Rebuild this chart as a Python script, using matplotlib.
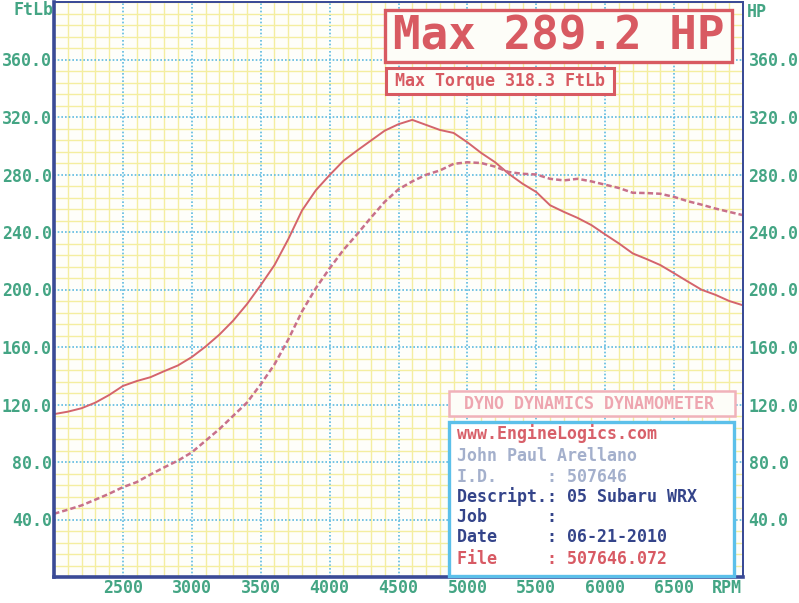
import matplotlib
matplotlib.use("Agg")
import matplotlib.pyplot as plt
from matplotlib.patches import Rectangle
import numpy as np

# ---- data ----
rpm = list(range(2000, 7001, 100))
torque = [113.3, 115.0, 117.4, 121.3, 126.6, 132.9, 136.3, 139.0, 143.2, 147.2,
          153.0, 160.3, 168.6, 178.3, 189.8, 203.0, 217.0, 235.0, 255.0, 269.0,
          279.6, 289.5, 296.7, 303.6, 310.5, 315.0, 318.0, 314.5, 311.0, 308.9,
          302.4, 295.0, 288.6, 280.5, 273.6, 267.8, 258.6, 254.0, 249.8, 244.8,
          238.3, 232.0, 225.1, 221.2, 217.0, 211.3, 205.5, 199.8, 196.3, 192.0,
          189.0]
hp = [44.0, 46.8, 49.8, 53.8, 57.9, 62.5, 66.0, 71.3, 76.3, 81.0,
      86.7, 94.8, 102.9, 112.1, 121.3, 134.0, 147.9, 165.2, 184.8, 200.9,
      214.7, 227.5, 238.5, 250.0, 261.0, 269.7, 275.2, 279.8, 282.8, 287.4,
      288.5, 288.0, 285.5, 281.7, 280.5, 280.0, 277.0, 275.9, 277.0, 275.2,
      272.9, 270.6, 267.3, 267.1, 266.6, 264.4, 261.4, 259.0, 256.3, 254.0,
      251.7]
x_ticks = [2500, 3000, 3500, 4000, 4500, 5000, 5500, 6000, 6500]
y_ticks = [40, 80, 120, 160, 200, 240, 280, 320, 360]
y_tick_labels = ["40.0", "80.0", "120.0", "160.0", "200.0", "240.0", "280.0", "320.0", "360.0"]
info_lines = [
    ("www.EngineLogics.com", "#d8606a"),
    ("John Paul Arellano", "#a4b0cc"),
    ("I.D.     : 507646", "#a4b0cc"),
    ("Descript.: 05 Subaru WRX", "#34448a"),
    ("Job      :", "#34448a"),
    ("Date     : 06-21-2010", "#34448a"),
    ("File     : 507646.072", "#d85a64"),
]

W, H = 799, 603
MONO = "DejaVu Sans Mono"
GREEN = "#44a584"
NAVY = "#3a4a96"
RED = "#d85a62"

fig = plt.figure(figsize=(W / 100, H / 100), dpi=100, facecolor="white")

def fx(px):
    return px / W

def fy(py):
    return 1 - py / H

ax = fig.add_axes([fx(54), fy(577), fx(743) - fx(54), fy(2) - fy(577)])
ax.set_facecolor("#fefefa")
ax.set_xlim(2000, 7000)
ax.set_ylim(0, 400)

# grid
ax.set_xticks(np.arange(2000, 7001, 100), minor=True)
ax.set_yticks(np.arange(0, 401, 8), minor=True)
ax.set_xticks(x_ticks)
ax.set_yticks(y_ticks)
ax.grid(which="minor", color="#f4eea0", linewidth=1.0, linestyle="-")
ax.grid(which="major", color="#5cbae0", linewidth=1.2, linestyle=(0, (1, 1.2)))
ax.set_axisbelow(True)

ax.tick_params(which="both", length=0)
ax.set_xticklabels([str(v) for v in x_ticks], fontfamily=MONO, fontweight="bold",
                   fontsize=12, color=GREEN)
ax.set_yticklabels(y_tick_labels, fontfamily=MONO, fontweight="bold",
                   fontsize=12, color=GREEN)
ax.tick_params(axis="x", pad=1.5)
ax.tick_params(axis="y", pad=1.5)

ax2 = ax.twinx()
ax2.set_ylim(0, 400)
ax2.set_yticks(y_ticks)
ax2.set_yticklabels(y_tick_labels, fontfamily=MONO, fontweight="bold",
                    fontsize=12, color=GREEN)
ax2.tick_params(length=0, pad=4)

for a in (ax, ax2):
    for s in a.spines.values():
        s.set_color(NAVY)
        s.set_linewidth(1.3)
ax.spines["left"].set_linewidth(2.6)
ax.spines["bottom"].set_linewidth(2.6)

# curves
ax.plot(rpm, torque, color="#d4646c", linewidth=1.4, solid_capstyle="round")
ax.plot(rpm, hp, color="#c8708a", linewidth=1.8, linestyle=(0, (2.2, 1.2)))

# axis titles
fig.text(fx(53), fy(10), "FtLb", ha="right", va="center", fontfamily=MONO,
         fontweight="bold", fontsize=12, color=GREEN)
fig.text(fx(747), fy(12), "HP", ha="left", va="center", fontfamily=MONO,
         fontweight="bold", fontsize=12, color=GREEN)
fig.text(fx(742), fy(588), "RPM", ha="right", va="center", fontfamily=MONO,
         fontweight="bold", fontsize=12, color=GREEN)

def box(x0, y0, x1, y1, ec, lw, fc="#fdfdf8"):
    r = Rectangle((fx(x0), fy(y1)), fx(x1) - fx(x0), fy(y0) - fy(y1),
                  transform=fig.transFigure, facecolor=fc, edgecolor=ec,
                  linewidth=lw, zorder=5)
    fig.add_artist(r)

# Max HP box
box(385, 10, 732, 62, RED, 2.4)
fig.text(fx(559), fy(37), "Max 289.2 HP", ha="center", va="center",
         fontfamily=MONO, fontweight="bold", fontsize=33, color=RED, zorder=6)
# Max torque box
box(386, 68, 614, 94, RED, 2.2)
fig.text(fx(500), fy(81), "Max Torque 318.3 FtLb", ha="center", va="center",
         fontfamily=MONO, fontweight="bold", fontsize=12, color=RED, zorder=6)

# Dyno Dynamics box
box(449, 391, 735, 416, "#f0b2ba", 1.8)
fig.text(fx(589), fy(404), "DYNO DYNAMICS DYNAMOMETER", ha="center", va="center",
         fontfamily=MONO, fontweight="bold", fontsize=12, color="#eea6b0", zorder=6)

# Info box
box(449, 422, 734, 576, "#5cc0ea", 2.4, fc="#ffffff")
ys = [434, 456, 477, 497, 517, 537, 559]
for (txt, col), yy in zip(info_lines, ys):
    fig.text(fx(457), fy(yy), txt, ha="left", va="center", fontfamily=MONO,
             fontweight="bold", fontsize=12, color=col, zorder=6)

fig.savefig("out.png", dpi=100, facecolor=fig.get_facecolor())
